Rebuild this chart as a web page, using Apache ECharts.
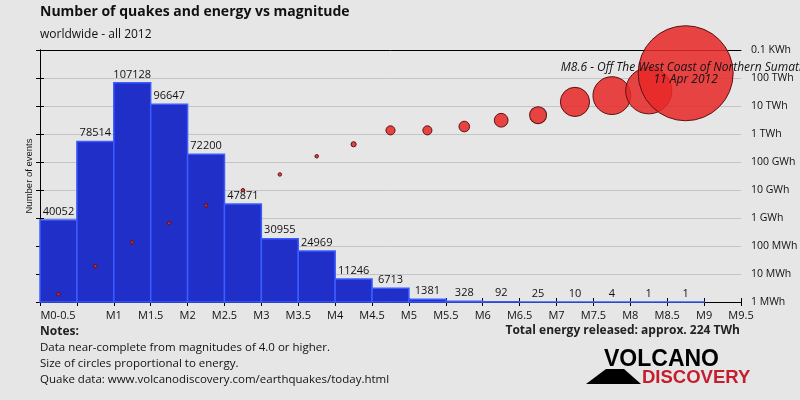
<!DOCTYPE html>
<html><head><meta charset="utf-8">
<script src="https://cdn.jsdelivr.net/npm/echarts@6/dist/echarts.min.js"></script>
<style>html,body{margin:0;padding:0;background:#e6e6e6}#c{width:800px;height:400px}</style>
</head><body><div id="c"></div>
<script>
// magnitude bins (start of each 0.5 bin)
const binStarts = [0, 0.5, 1, 1.5, 2, 2.5, 3, 3.5, 4, 4.5, 5, 5.5, 6, 6.5, 7, 7.5, 8, 8.5];
const binWidth = 0.5;
// number of events per bin
const counts = [40052, 78514, 107128, 96647, 72200, 47871, 30955, 24969, 11246, 6713, 1381, 328, 92, 25, 10, 4, 1, 1];
// energy released per bin, in MWh
const energyMWh = [1.9, 19, 135, 650, 2800, 9800, 36000, 160000, 430000, 1350000, 1350000, 1850000, 3100000, 4700000, 14000000, 23500000, 35000000, 148000000];
// right axis tick labels (1 MWh ... top)
const energyTickLabels = ['1 MWh', '10 MWh', '100 MWh', '1 GWh', '10 GWh', '100 GWh', '1 TWh', '10 TWh', '100 TWh', '0.1 KWh'];
const firstMagLabel = 'M0-0.5';
const annotation = 'M8.6 - Off The West Coast of Northern Sumatra\n11 Apr 2012';
const titleText = 'Number of quakes and energy vs magnitude';
const subtitleText = 'worldwide - all 2012';
const notesTitle = 'Notes:';
const notesLines = ['Data near-complete from magnitudes of 4.0 or higher.', 'Size of circles proportional to energy.', 'Quake data: www.volcanodiscovery.com/earthquakes/today.html'];
const totalText = 'Total energy released: approx. 224 TWh';

const FONT = 'Open Sans';
const maxCount = Math.max(...counts);
const countMax = maxCount * 1.15;
const maxEnergy = Math.max(...energyMWh);

const chart = echarts.init(document.getElementById('c'));
const magMin = 0, magMax = 9.5;

const option = {
  backgroundColor: '#e6e6e6',
  animation: false,
  textStyle: { fontFamily: FONT },
  grid: { left: 40, right: 59, top: 50, bottom: 98, containLabel: false, outerBoundsMode: 'none' },
  xAxis: [
    {
      type: 'value', min: magMin, max: magMax, interval: 0.5, position: 'bottom',
      axisLine: { lineStyle: { color: '#000', width: 1 } },
      axisTick: { show: true, length: 4, lineStyle: { color: '#000' } },
      splitLine: { show: false },
      axisLabel: {
        showMinLabel: true, showMaxLabel: true, margin: 8,
        fontSize: 11, color: '#111', fontFamily: FONT,
        formatter: v => v === 0 ? '{f|' + firstMagLabel + '}' : (v === 0.5 ? '' : 'M' + v),
        rich: { f: { padding: [0, 0, 0, 36], fontSize: 11, color: '#111', fontFamily: FONT } }
      }
    },
    {
      type: 'value', min: magMin, max: magMax, interval: 0.5, position: 'top',
      axisLine: { lineStyle: { color: '#000', width: 1 } },
      axisTick: { show: false }, axisLabel: { show: false }, splitLine: { show: false }
    },
    {
      type: 'value', min: magMin, max: magMax, interval: 0.5, position: 'bottom',
      axisLine: { show: false },
      axisTick: { show: true, inside: true, length: 4, lineStyle: { color: '#000' } },
      axisLabel: { show: false }, splitLine: { show: false }
    }
  ],
  yAxis: [
    {
      type: 'value', min: 0, max: countMax, interval: countMax / 9, position: 'left',
      name: 'Number of events', nameLocation: 'middle', nameGap: 6,
      nameTextStyle: { fontSize: 9.5, color: '#111', fontFamily: 'Liberation Sans' },
      axisLine: { show: true, lineStyle: { color: '#000' } },
      axisTick: { show: false }, axisLabel: { show: false }, splitLine: { show: false }
    },
    {
      type: 'log', logBase: 10, min: 1, max: 1e9, position: 'right',
      axisLine: { show: true, lineStyle: { color: '#000' } },
      axisTick: { show: true, length: 4, lineStyle: { color: '#000' } },
      splitLine: { show: true, lineStyle: { color: '#c4c4c4', width: 1 } },
      axisLabel: {
        margin: 10, fontSize: 10.5, color: '#111', fontFamily: FONT,
        formatter: v => energyTickLabels[Math.round(Math.log10(v))]
      }
    },
    {
      type: 'log', logBase: 10, min: 1, max: 1e9, position: 'right',
      axisLine: { show: false },
      axisTick: { show: true, inside: true, length: 4, lineStyle: { color: '#000' } },
      axisLabel: { show: false }, splitLine: { show: false }
    }
  ],
  series: [
    {
      type: 'custom', xAxisIndex: 0, yAxisIndex: 0, z: 3,
      data: binStarts.map((s, i) => [s, counts[i]]),
      renderItem: (params, api) => {
        const x0 = api.value(0), c = api.value(1);
        const p0 = api.coord([x0, 0]);
        const p1 = api.coord([x0 + binWidth, c]);
        return {
          type: 'group',
          children: [
            { type: 'rect', shape: { x: p0[0], y: p1[1], width: p1[0] - p0[0], height: p0[1] - p1[1] },
              style: { fill: '#1f2fc8', stroke: '#3d5cff', lineWidth: 1.5 } },
            { type: 'text', x: (p0[0] + p1[0]) / 2, y: p1[1] - 3,
              style: { text: String(c), align: 'center', verticalAlign: 'bottom', fontSize: 11, fill: '#111', fontFamily: FONT } }
          ]
        };
      }
    },
    {
      type: 'scatter', xAxisIndex: 0, yAxisIndex: 1, z: 4,
      data: binStarts.map((s, i) => {
        const d = { value: [s + binWidth / 2, energyMWh[i]] };
        if (energyMWh[i] === maxEnergy) {
          d.label = {
            show: true, position: 'inside', formatter: annotation,
            fontStyle: 'italic', fontSize: 12, lineHeight: 12, color: '#111', fontFamily: FONT
          };
        }
        return d;
      }),
      symbolSize: v => Math.max(3.5, 95 * Math.sqrt(v[1] / maxEnergy)),
      itemStyle: { color: 'rgba(232,40,40,0.86)', opacity: 1, borderColor: '#5a1212', borderWidth: 1 }
    }
  ],
  graphic: [
    { type: 'text', left: 40, top: 5, style: { text: titleText, fontSize: 14, fontWeight: 'bold', fill: '#111', fontFamily: FONT } },
    { type: 'text', left: 40, top: 29, style: { text: subtitleText, fontSize: 12, fill: '#111', fontFamily: FONT } },
    { type: 'text', x: 40, y: 332, style: { text: notesTitle, fontSize: 12, fontWeight: 'bold', fill: '#222', verticalAlign: 'middle', fontFamily: FONT } },
    { type: 'text', x: 40, y: 348, style: { text: notesLines[0], fontSize: 11.5, fill: '#111', verticalAlign: 'middle', fontFamily: FONT } },
    { type: 'text', x: 40, y: 364, style: { text: notesLines[1], fontSize: 11.5, fill: '#111', verticalAlign: 'middle', fontFamily: FONT } },
    { type: 'text', x: 40, y: 380, style: { text: notesLines[2], fontSize: 11.5, fill: '#111', verticalAlign: 'middle', fontFamily: FONT } },
    { type: 'text', x: 740, y: 331, style: { text: totalText, fontSize: 12, fontWeight: 'bold', fill: '#222', align: 'right', verticalAlign: 'middle', fontFamily: FONT } },
    { type: 'polygon', shape: { points: [[586, 384], [641, 384], [624, 369], [606, 369]] }, style: { fill: '#000' } },
    { type: 'text', x: 604, y: 360, style: { text: 'VOLCANO', fontSize: 23, fontWeight: 'bold', fill: '#000', verticalAlign: 'middle', fontFamily: 'Liberation Sans', textShadowColor: '#999', textShadowOffsetX: 2, textShadowOffsetY: 1, textShadowBlur: 0 } },
    { type: 'text', x: 642, y: 378, style: { text: 'DISCOVERY', fontSize: 18.5, fill: '#c41e2e', verticalAlign: 'middle', fontFamily: 'Liberation Sans', fontWeight: 'bold' } }
  ]
};
chart.setOption(option);
</script>
</body></html>
